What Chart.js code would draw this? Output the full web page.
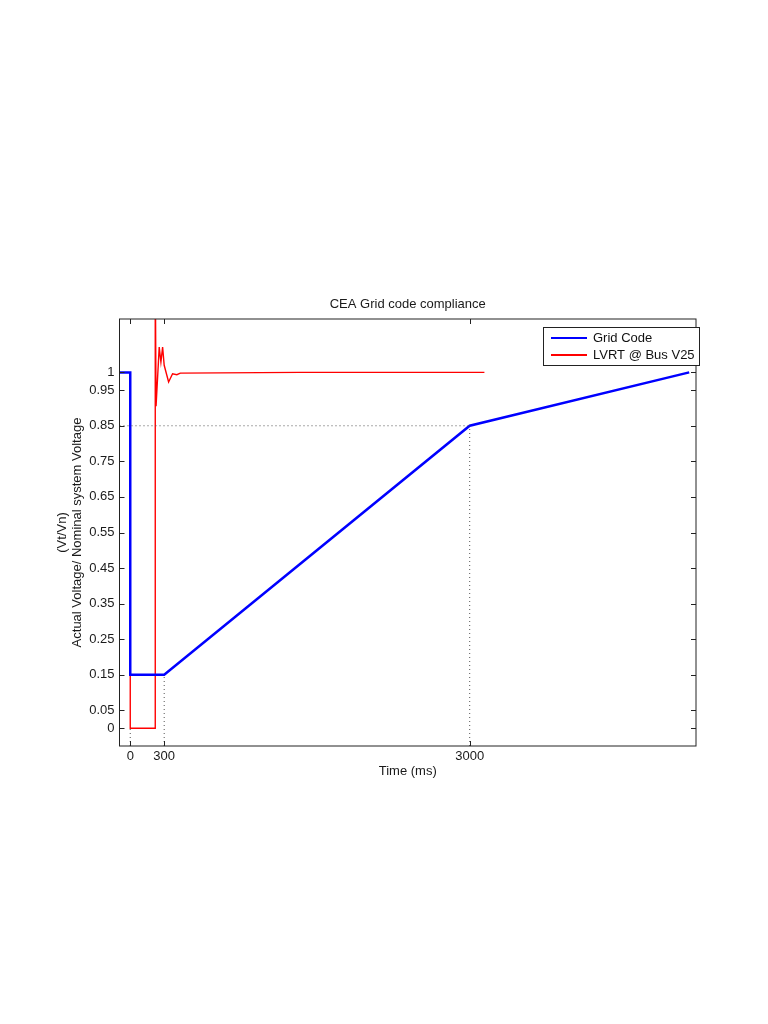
<!DOCTYPE html>
<html>
<head>
<meta charset="utf-8">
<style>
  html, body { margin: 0; padding: 0; background: #fff; }
</style>
<script src="https://cdn.jsdelivr.net/npm/chart.js@4.4.1/dist/chart.umd.min.js"></script>
</head>
<body>
<canvas id="chart" width="768" height="1024"></canvas>
<script>
// Grid code envelope (ms, Vt/Vn)
const gridCodeX = [-95, 0, 0, 300, 3000, 4940];
const gridCodeY = [1, 1, 0.15, 0.15, 0.85, 1];

// LVRT response at bus V25
const lvrtX = [0, 0, 220, 221, 228, 256, 271, 286, 300, 339, 374, 412, 442, 1500, 3130];
const lvrtY = [1, 0, 0, 1.3, 0.905, 1.071, 1.029, 1.071, 1.02, 0.973, 0.996, 0.9935, 0.998, 1.0, 1.0];

// dotted guide lines
const guide085X = [-95, 3000];
const guide085Y = [0.85, 0.85];
const guide3000X = [3000, 3000];
const guide3000Y = [-0.05, 0.85];
const guide300X = [300, 300];
const guide300Y = [-0.05, 0.15];
const guide0X = [0, 0];
const guide0Y = [-0.05, 0];

const xTicks = [0, 300, 3000];
const yTicks = [0, 0.05, 0.15, 0.25, 0.35, 0.45, 0.55, 0.65, 0.75, 0.85, 0.95, 1];

const toPoints = (xs, ys) => xs.map((x, i) => ({ x: x, y: ys[i] }));

Chart.defaults.font.family = '"Liberation Sans", Arial, sans-serif';
Chart.defaults.font.size = 13;
Chart.defaults.color = '#1a1a1a';

const guideStyle = {
  borderColor: '#555',
  borderWidth: 1,
  borderDash: [1, 3],
  pointRadius: 0,
  fill: false
};

// box, inward ticks on all four sides, and the boxed legend
const matlabFrame = {
  id: 'matlabFrame',
  afterDatasetsDraw(chart) {
    const { ctx, chartArea: a, scales } = chart;
    ctx.save();
    ctx.strokeStyle = '#222';
    ctx.lineWidth = 1;
    ctx.strokeRect(a.left, a.top, a.right - a.left, a.bottom - a.top);
    ctx.beginPath();
    xTicks.forEach(v => {
      const px = Math.round(scales.x.getPixelForValue(v)) + 0.5;
      ctx.moveTo(px, a.bottom); ctx.lineTo(px, a.bottom - 5);
      ctx.moveTo(px, a.top); ctx.lineTo(px, a.top + 5);
    });
    yTicks.forEach(v => {
      const py = Math.round(scales.y.getPixelForValue(v)) + 0.5;
      ctx.moveTo(a.left, py); ctx.lineTo(a.left + 5, py);
      ctx.moveTo(a.right, py); ctx.lineTo(a.right - 5, py);
    });
    ctx.stroke();

    // legend
    const items = chart.data.datasets.filter(d => d.label);
    const bx = a.right - 153, by = a.top + 8, bw = 156, bh = 38;
    ctx.fillStyle = '#fff';
    ctx.fillRect(bx, by, bw, bh);
    ctx.strokeStyle = '#222';
    ctx.strokeRect(bx + 0.5, by + 0.5, bw, bh);
    ctx.font = '13px "Liberation Sans", Arial, sans-serif';
    ctx.textBaseline = 'middle';
    items.forEach((d, i) => {
      const ly = by + 11 + i * 17;
      ctx.strokeStyle = d.borderColor;
      ctx.lineWidth = 2;
      ctx.beginPath();
      ctx.moveTo(bx + 8, ly); ctx.lineTo(bx + 44, ly);
      ctx.stroke();
      ctx.fillStyle = '#111';
      ctx.fillText(d.label, bx + 50, ly);
    });
    ctx.restore();
  }
};

new Chart(document.getElementById('chart'), {
  type: 'line',
  data: {
    datasets: [
      Object.assign({ data: toPoints(guide085X, guide085Y) }, guideStyle),
      Object.assign({ data: toPoints(guide3000X, guide3000Y) }, guideStyle),
      Object.assign({ data: toPoints(guide300X, guide300Y) }, guideStyle),
      Object.assign({ data: toPoints(guide0X, guide0Y) }, guideStyle),
      {
        label: 'Grid Code',
        data: toPoints(gridCodeX, gridCodeY),
        borderColor: '#0000ff',
        borderWidth: 2.5,
        pointRadius: 0,
        fill: false
      },
      {
        label: 'LVRT @ Bus V25',
        data: toPoints(lvrtX, lvrtY),
        borderColor: '#ff0000',
        borderWidth: 1.4,
        pointRadius: 0,
        fill: false
      }
    ]
  },
  options: {
    responsive: false,
    animation: false,
    layout: { padding: { left: 0, right: 72, top: 0, bottom: 238 } },
    plugins: {
      legend: { display: false },
      tooltip: { enabled: false }
    },
    scales: {
      x: {
        type: 'linear',
        min: -95,
        max: 5000,
        grid: { display: false, drawTicks: false },
        border: { display: false },
        afterBuildTicks: s => { s.ticks = xTicks.map(v => ({ value: v })); },
        afterFit: s => { s.height = 40; },
        ticks: { padding: 3, maxRotation: 0, callback: v => String(v) },
        title: { display: true, text: 'Time (ms)', padding: { top: 0, bottom: 7 } }
      },
      x2: {
        type: 'linear',
        position: 'top',
        min: -95,
        max: 5000,
        grid: { display: false, drawTicks: false },
        border: { display: false },
        ticks: { display: false },
        afterFit: s => { s.height = 319; },
        title: { display: true, text: 'CEA Grid code compliance', padding: { top: 297, bottom: 0 } }
      },
      y: {
        type: 'linear',
        min: -0.05,
        max: 1.15,
        grid: { display: false, drawTicks: false },
        border: { display: false },
        afterBuildTicks: s => { s.ticks = yTicks.map(v => ({ value: v })); },
        afterFit: s => { s.width = 119.5; },
        ticks: { padding: 5, callback: v => String(v) },
        title: {
          display: true,
          text: ['(Vt/Vn)', 'Actual Voltage/ Nominal system Voltage'],
          font: { lineHeight: 1.15 },
          padding: { top: 55, bottom: 0 }
        }
      }
    }
  },
  plugins: [matlabFrame]
});
</script>
</body>
</html>
